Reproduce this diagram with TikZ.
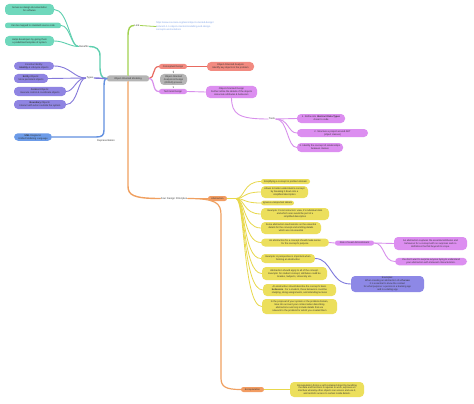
\documentclass[tikz,border=0pt]{standalone}
\usepackage{fontspec}
\setmainfont{Liberation Sans}
\usetikzlibrary{arrows.meta}
\definecolor{tealF}{HTML}{6FD8BC}
\definecolor{tealL}{HTML}{5FCFAF}
\definecolor{purpF}{HTML}{8F84E2}
\definecolor{purpL}{HTML}{8478DA}
\definecolor{blueF}{HTML}{6C9BE8}
\definecolor{blueL}{HTML}{6290E0}
\definecolor{greenL}{HTML}{A2D250}
\definecolor{linkT}{HTML}{7FA2E8}
\definecolor{grayF}{HTML}{B5B5B5}
\definecolor{orangeF}{HTML}{F29C62}
\definecolor{orangeL}{HTML}{F0A060}
\definecolor{yelF}{HTML}{ECDF5C}
\definecolor{yelL}{HTML}{E8D84C}
\definecolor{redF}{HTML}{F28A80}
\definecolor{redL}{HTML}{E86A60}
\definecolor{orchF}{HTML}{DC8EF0}
\definecolor{orchL}{HTML}{D890EC}
\definecolor{exF}{HTML}{8D88E6}
\definecolor{exL}{HTML}{7D78DC}
\begin{document}
\begin{tikzpicture}[x=1pt,y=-1pt,
  base/.style={inner sep=0pt, align=center, text=black!80, font=\fontsize{2.4}{2.9}\selectfont, rounded corners=4pt},
  gbox/.style={base, fill=tealF},
  pbox/.style={base, fill=purpF},
  bbox/.style={base, fill=blueF},
  graybox/.style={base, fill=grayF},
  obox/.style={base, fill=orangeF},
  ybox/.style={base, fill=yelF},
  rbox/.style={base, fill=redF},
  mbox/.style={base, fill=orchF},
  ebox/.style={base, fill=exF},
  sm/.style={rounded corners=2.4pt},
  lbl/.style={fill=white, inner sep=0.6pt, text=black!75, font=\fontsize{2.6}{3}\selectfont},
  ln/.style={line cap=round, line width=#1},
  ln/.default=0.9
]
\fill[white] (0,0) rectangle (474,404);
\useasboundingbox (0,0) rectangle (474,404);

% ---------- nodes ----------
\node[graybox, sm, minimum width=42, minimum height=6] (oom) at (128,78.5) {Object-Oriented Modeling};

% Benefits
\node[lbl] (ben) at (84,46.5) {Benefits};
\node[gbox, minimum width=49, minimum height=11] (g1) at (29.5,9.5) {Serves as design documentation\\for software};
\node[gbox, sm, minimum width=56, minimum height=5.5] (g2) at (33,25.5) {Can be mapped to standard source code};
\node[gbox, minimum width=49, minimum height=10] (g3) at (29.5,41) {Helps developers by giving them\\a predefined template of system};

% Types
\node[lbl] (typ) at (90,78) {Types};
\node[pbox, minimum width=40, minimum height=8] (p1) at (34,66) {Construct Entity:\\\textbf{Identity} \& Lifecycle objects};
\node[pbox, minimum width=34, minimum height=9] (p2) at (31,78.5) {\textbf{Entity} Objects:\\Store persistent objects};
\node[pbox, minimum width=52, minimum height=9] (p3) at (40,91.5) {\textbf{Control} Objects:\\Execute control \& coordinate objects};
\node[pbox, minimum width=52, minimum height=9] (p4) at (40,104.5) {\textbf{Boundary} Objects:\\Interact with actors outside the system};

% Representation
\node[bbox, minimum width=38, minimum height=7.5] (uml) at (33,137) {\textbf{UML} Diagrams:\\Unified Modeling Language};
\node[lbl, fill=none] (rep) at (106,141) {Representation};

% Link
\node[lbl] (lnk) at (137,25.5) {Link};
\node[anchor=west, inner sep=0pt, align=left, text=linkT, font=\fontsize{2.4}{3.3}\selectfont] (lt) at (156,26.5) {https://www.coursera.org/learn/object-oriented-design/\\lecture/1-1-1-object-oriented-modelling-and-design-\\concepts-and-notations};

% Conceptual / Technical design
\node[rbox, sm, minimum width=28, minimum height=5] (cd) at (173,66.5) {Conceptual Design};
\node[rbox, minimum width=47, minimum height=9] (ooa) at (230.5,66.5) {Object-Oriented Analysis\\Identify key objects in the problem};
\node[graybox, minimum width=27, minimum height=11] (gy) at (173.5,79.5) {Object-Oriented\\Analysis \& Design\\(OOAD) process};
\node[mbox, sm, minimum width=28, minimum height=5] (td) at (173,91.5) {Technical Design};
\node[mbox, minimum width=51, minimum height=12] (tdo) at (231.5,92) {Object-Oriented Design\\Further refine the details of the objects\\Associate attributes \& behaviors};

% Tools
\node[lbl] (tls) at (272,119) {Tools};
\node[mbox, minimum width=48, minimum height=9] (t1) at (321,118.5) {1. Refine into \textbf{Abstract Data Types}\\closer to code};
\node[mbox, minimum width=71, minimum height=8] (t2) at (332.5,133) {2. Structure a project around ADT\\(object classes)};
\node[mbox, minimum width=46, minimum height=9] (t3) at (320,147.5) {3. Identify the concept of relationships\\between classes};

% Four design principles
\node[lbl] (fdp) at (174,198.5) {Four Design Principles};
\node[obox, sm, minimum width=19, minimum height=5] (abs) at (217.5,198.5) {Abstraction};
\coordinate (aj) at (236,198.5);

\node[ybox, sm, minimum width=49, minimum height=5] (y1) at (285.5,181.5) {Simplifying a concept in problem domain};
\node[ybox, minimum width=47, minimum height=12] (y2) at (284.5,192) {Allows to better understand a concept\\by breaking it down into a\\simplified description};
\node[ybox, sm, minimum width=33, minimum height=4.6] (y3) at (277.5,203) {Ignores unimportant details};
\node[ybox, minimum width=68, minimum height=12] (y4) at (295,214) {Example: From Instructors' view, it's individual stats\\and which ones would be part of a\\simplified description};
\node[ybox, minimum width=60, minimum height=12] (y5) at (291,228) {Some abstraction mechanisms on the essential\\details for the concept and omitting details\\which are not essential};
\node[ybox, minimum width=68, minimum height=8] (y6) at (295,242.5) {An abstraction for a concept should make sense\\for the concept's purpose};
\node[ybox, minimum width=54, minimum height=9] (y7) at (288,258.5) {Example: A perspective is important when\\forming an abstraction};
\node[ybox, minimum width=65, minimum height=13] (y8) at (294.5,273.5) {Abstraction should apply to all of the concept.\\Example: for student concept, attributes could be\\Grades, Subjects, University etc.};
\node[ybox, minimum width=73, minimum height=12] (y9) at (299.5,290) {An abstraction should describe the concept's basic\\\textbf{behaviors}. For a student, those behaviors could be\\studying, doing assignments, and attending lectures};
\node[ybox, minimum width=75, minimum height=15] (y10) at (299.5,306.5) {In the proposal of your system or the problem domain,\\take into account your context when describing\\abstractions and only include details that are\\relevant to the problem for which you created them};

\node[mbox, sm, minimum width=39, minimum height=5] (rola) at (354.5,243) {Rule of Least Astonishment};
\node[mbox, minimum width=73, minimum height=13] (ra) at (430.5,243.5) {An abstraction captures the essential attributes and\\behaviour for a concept with no surprises and no\\definitions that fall beyond its scope.};
\node[mbox, minimum width=72, minimum height=7.5] (rb) at (431,261.5) {You don't want to surprise anyone trying to understand\\your abstraction with irrelevant characteristics.};
\node[ebox, minimum width=73, minimum height=16] (ex) at (387.5,284) {Examples:\\When creating an abstraction of a \textbf{Person}\\it is essential to know the context\\for what purpose: a person in a banking app\\and in a dating app};

\node[obox, sm, minimum width=23, minimum height=5] (enc) at (252.5,389.5) {Encapsulation};
\node[ybox, minimum width=74, minimum height=15] (encd) at (327,389.5) {Encapsulation forms a self-contained object by bundling\\the data and functions it requires to work, exposes an\\interface whereby other objects can access and use it,\\and restricts access to certain inside details.};

% ---------- connectors ----------
% Benefits
\draw[tealL, ln=1.4] (oom.west) .. controls (101,78.5) and (100,74) .. (100,66) -- (100,56) .. controls (100,49) and (96,46.5) .. (ben.east);
\draw[tealL, ln] (ben.west) .. controls (70,46.5) and (68,9.5) .. (g1.east);
\draw[tealL, ln] (ben.west) .. controls (71,46.5) and (70,25.5) .. (g2.east);
\draw[tealL, ln] (ben.west) .. controls (70,46.5) and (64,41) .. (g3.east);
% Types
\draw[purpL, ln=1.4] (oom.west) -- (typ.east);
\draw[purpL, ln] (typ.west) .. controls (74,78) and (70,66) .. (p1.east);
\draw[purpL, ln] (typ.west) -- (p2.east);
\draw[purpL, ln] (typ.west) .. controls (76,78) and (74,91.5) .. (p3.east);
\draw[purpL, ln] (typ.west) .. controls (78,78) and (78,104.5) .. (p4.east);
% Representation
\draw[blueL, ln=1.4] (oom.west) .. controls (104,78.5) and (104,82) .. (104,90) -- (104,130) .. controls (104,135.5) and (102,137) .. (96,137) -- (uml.east);
% Link
\draw[greenL, ln=1.4] (oom.north) -- (128,36) .. controls (128,28) and (130,25.5) .. (lnk.west);
\draw[greenL, ln=0.8] (lnk.east) -- (lt.west);
% Conceptual / technical
\draw[redL, ln=1.2] (oom.east) .. controls (155,78.5) and (152,66.5) .. (cd.west);
\draw[redL, ln] (cd.east) -- (ooa.west);
\draw[orchL, ln=1.2] (oom.east) .. controls (155,78.5) and (152,91.5) .. (td.west);
\draw[orchL, ln] (td.east) -- (tdo.west);
\draw[black!60, line width=0.3, shorten <=1.5, shorten >=1, -{Stealth[length=1.2pt,width=1.2pt]}] (cd.south) -- (gy.north);
\draw[black!60, line width=0.3, shorten <=1.5, shorten >=1, -{Stealth[length=1.2pt,width=1.2pt]}] (gy.south) -- (td.north);
% Tools
\draw[orchL, ln] (tdo.south) .. controls (232,114) and (238,119) .. (tls.west);
\draw[orchL, ln] (tls.east) -- (t1.west);
\draw[orchL, ln] (tls.east) .. controls (289,119) and (288,133) .. (t2.west);
\draw[orchL, ln] (tls.east) .. controls (288,119) and (287,147.5) .. (t3.west);
% Four design principles
\draw[orangeL, ln=1.4] (oom.south) -- (128,186) .. controls (128,195) and (133,198.5) .. (fdp.west);
\draw[orangeL, ln=1.2] (fdp.east) -- (abs.west);
\draw[orangeL, ln=1.2] (fdp.east) .. controls (216,198.5) and (221,203) .. (221,215) -- (221,378) .. controls (221,387) and (226,389.5) .. (enc.west);
\draw[yelL, ln=1.1] (abs.east) -- (aj);
\foreach \n in {y1,y2,y3,y4,y5,y6,y7,y8,y9,y10}
  \draw[yelL, ln=0.8] (aj) .. controls (245,198.5) and (243,0|-\n.west) .. (\n.west);
\draw[orchL, ln] (y6.east) -- (rola.west);
\draw[orchL, ln] (rola.east) -- (ra.west);
\draw[orchL, ln] (rola.east) .. controls (385,243) and (383,261.5) .. (rb.west);
\draw[exL, ln] (y7.east) .. controls (332,258.5) and (330,284) .. (ex.west);
\draw[yelL, ln] (enc.east) -- (encd.west);
\end{tikzpicture}
\end{document}
